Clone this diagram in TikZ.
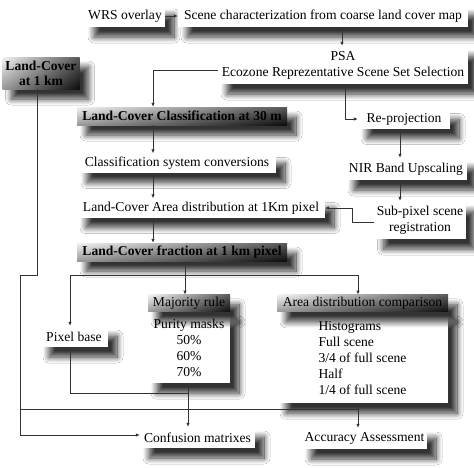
\documentclass[tikz,border=0pt]{standalone}
\usepackage{fontspec}
\setmainfont{Liberation Serif}
\usetikzlibrary{arrows.meta,shadows.blur,shadings,calc}
\begin{document}
\begin{tikzpicture}[x=1pt,y=-1pt,
  font=\fontsize{13.6}{16}\selectfont,
  shad/.style={blur shadow={shadow xshift=9pt,shadow yshift=-10pt,shadow blur radius=6pt,shadow blur steps=14,shadow opacity=80}},
  wbox/.style={shad,fill=white,inner sep=1pt,align=center},
  dbox/.style={shad,inner sep=1pt,align=center,
    upper left=white!95!black,lower left=white!60!black,
    upper right=black!65,lower right=black!95},
  ln/.style={draw=black!80,line width=0.8pt},
  arr/.style={ln,-{Latex[length=4pt,width=3.5pt]}}
]
\useasboundingbox (0,0) rectangle (474,467);
\fill[white] (0,0) rectangle (474,467);

\node[wbox,minimum width=80,minimum height=22] (wrs) at (125,16) {WRS overlay};
\node[wbox,minimum width=290,minimum height=22] (scene) at (323,16) {Scene characterization from coarse land cover map};
\node[wbox,minimum width=250,minimum height=38] (psa) at (343,65) {PSA\\Ecozone Reprezentative Scene Set Selection};
\node[dbox,minimum width=77,minimum height=32,font=\fontsize{13.6}{15}\selectfont\bfseries] (lc1) at (41,73) {Land-Cover\\at 1 km};
\node[dbox,minimum width=210,minimum height=18,font=\fontsize{13.6}{15}\selectfont\bfseries] (lcc) at (182,116) {Land-Cover Classification at 30 m};
\node[wbox,minimum width=198,minimum height=19] (csc) at (177,163) {Classification system conversions};
\node[wbox,minimum width=248,minimum height=19] (lcad) at (201,208) {Land-Cover Area distribution at 1Km pixel};
\node[dbox,minimum width=210,minimum height=18,font=\fontsize{13.6}{15}\selectfont\bfseries] (lcf) at (182,252) {Land-Cover fraction at 1 km pixel};
\node[wbox,minimum width=92,minimum height=19] (rep) at (404,119) {Re-projection};
\node[wbox,minimum width=122,minimum height=22] (nir) at (406,169) {NIR Band Upscaling};
\node[wbox,minimum width=91,minimum height=38] (sub) at (420,220) {Sub-pixel scene\\registration};
\node[wbox,minimum width=82,minimum height=71,anchor=north] (pur) at (189,312) {Purity masks\\50\%\\60\%\\70\%};
\node[dbox,minimum width=82,minimum height=17,anchor=south] (maj) at (189,312) {Majority rule};
\node[wbox,minimum width=171,minimum height=91,anchor=north,align=left] (area) at (362.5,312) {Histograms\\Full scene\\3/4 of full scene\\Half\\1/4 of full scene};
\node[dbox,minimum width=171,minimum height=17,anchor=south] (areah) at (362.5,312) {Area distribution comparison};
\node[wbox,minimum width=68,minimum height=21] (pix) at (74,336.5) {Pixel base};
\node[wbox,minimum width=115,minimum height=21] (conf) at (197.5,437.5) {Confusion matrixes};
\node[wbox,minimum width=125,minimum height=21] (acc) at (364.5,438.5) {Accuracy Assessment};

\coordinate (xa) at (153,0);
\coordinate (xp) at (342,0);
\coordinate (xr) at (400,0);
\coordinate (xl) at (37,0);
\coordinate (xf) at (185,0);
\coordinate (xm) at (188,0);
\coordinate (xarea) at (358,0);
\coordinate (b1) at (37,275);
\coordinate (b2) at (20,275);
\coordinate (b3) at (20,435);
\coordinate (b4) at (20,409);
\coordinate (b5) at (358,409);
\coordinate (h1) at (70,275);
\coordinate (h2) at (358,275);
\coordinate (p1) at (70,393);
\coordinate (p2) at (188,393);
\coordinate (s1) at (352,222);
\coordinate (s2) at (352,208);
\coordinate (r1) at (345,119);

\draw[arr] (wrs) -- (scene);
\draw[arr] (scene.south -| xp) -- (psa.north -| xp);
\draw[arr] (psa.west |- 0,70) -| (lcc.north -| xa);
\draw[ln] (psa.south -| r1) -- (r1);
\draw[arr] (r1) -- (rep.west);
\draw[arr] (lcc.south -| xa) -- (csc.north -| xa);
\draw[arr] (csc.south -| xa) -- (lcad.north -| xa);
\draw[arr] (lcad.south -| xa) -- (lcf.north -| xa);
\draw[arr] (rep.south -| xr) -- (nir.north -| xr);
\draw[arr] (nir.south -| xr) -- (sub.north -| xr);
\draw[ln] (sub.west |- s1) -- (s1) -- (s2);
\draw[arr] (s2) -- (lcad.east |- s2);
\draw[ln] (lc1.south -| xl) -- (b1) -- (b2) -- (b3);
\draw[arr] (b3) -- (conf.west |- b3);
\draw[ln] (b4) -- (b5);
\draw[arr] (lcf.south -| xf) -- (maj.north -| xf);
\draw[ln] (h1) -- (h2);
\draw[arr] (h1) -- (pix.north -| h1);
\draw[arr] (h2) -- (areah.north -| h2);
\draw[ln] (pix.south -| p1) -- (p1) -- (p2);
\draw[arr] (pur.south -| xm) -- (conf.north -| xm);
\draw[arr] (area.south -| xarea) -- (acc.north -| xarea);
\end{tikzpicture}
\end{document}
